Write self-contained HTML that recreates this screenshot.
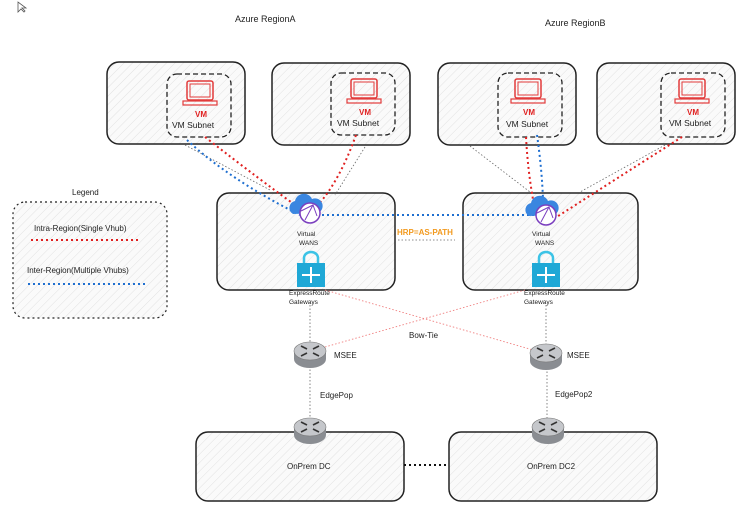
<!DOCTYPE html>
<html><head><meta charset="utf-8"><style>
html,body{margin:0;padding:0;background:#fff;}
svg{display:block;}
text{font-family:"Liberation Sans",sans-serif;fill:#222;}
</style></head><body>
<svg width="750" height="514" viewBox="0 0 750 514" xmlns="http://www.w3.org/2000/svg">
<defs>
<pattern id="h" width="6" height="6" patternUnits="userSpaceOnUse" patternTransform="rotate(45)">
<rect width="6" height="6" fill="#fafafa"/><line x1="0" y1="0" x2="0" y2="6" stroke="#e2e2e2" stroke-width="1"/>
</pattern>
<g id="router">
<ellipse cx="0" cy="4" rx="16" ry="9" fill="#8a8d92"/>
<rect x="-16" y="-4" width="32" height="8" fill="#8a8d92"/>
<ellipse cx="0" cy="-4" rx="16" ry="9" fill="#c5c7cb" stroke="#777" stroke-width="0.6"/>
<g stroke="#333" stroke-width="1.6">
<line x1="-9" y1="-9" x2="-3" y2="-6"/><line x1="9" y1="-9" x2="3" y2="-6"/>
<line x1="-9" y1="1" x2="-3" y2="-2"/><line x1="9" y1="1" x2="3" y2="-2"/>
</g>
</g>
<g id="vm">
<rect x="-13" y="-14" width="26" height="19" rx="2" fill="none" stroke="#e23b3b" stroke-width="1.5"/>
<rect x="-10" y="-11" width="20" height="13" fill="none" stroke="#e23b3b" stroke-width="1"/>
<rect x="-17" y="6" width="34" height="4" fill="none" stroke="#e23b3b" stroke-width="1.2"/>
</g>
<g id="er">
<path d="M-7,-12 v-5 a7,6 0 0 1 14,0 v5" fill="none" stroke="#3cc3e6" stroke-width="2.5"/>
<rect x="-14" y="-12" width="28" height="24" fill="#1fa8d6"/>
<g stroke="#fff" stroke-width="2" fill="#fff">
<line x1="-9" y1="0" x2="9" y2="0"/><line x1="0" y1="-8" x2="0" y2="8"/>
</g>
</g>
<g id="vwan">
<path d="M-14,6 a7,7 0 0 1 2,-13 a9,9 0 0 1 17,-2 a7,7 0 0 1 6,14 z" fill="#3a86e0"/>
<circle cx="3" cy="5" r="10" fill="#fff" stroke="#7b3fbf" stroke-width="1.5"/>
<path d="M-6,3 L6,-3 L10,8 M-2,12 L6,-3" fill="none" stroke="#7b3fbf" stroke-width="1"/>
</g>
</defs>

<!-- cursor -->
<path d="M18,2 L18,12 L21,9 L24,12 L25,11 L22,8 L26,8 Z" fill="#fff" stroke="#555" stroke-width="0.8"/>

<text x="235" y="22" font-size="9">Azure RegionA</text>
<text x="545" y="26" font-size="9">Azure RegionB</text>

<!-- VNet boxes -->
<g fill="url(#h)" stroke="#222" stroke-width="1.5">
<rect x="107" y="62" width="138" height="82" rx="12"/>
<rect x="272" y="63" width="138" height="82" rx="12"/>
<rect x="438" y="63" width="138" height="82" rx="12"/>
<rect x="597" y="63" width="138" height="81" rx="12"/>
<rect x="217" y="193" width="178" height="97" rx="12"/>
<rect x="463" y="193" width="175" height="97" rx="12"/>
<rect x="196" y="432" width="208" height="69" rx="12"/>
<rect x="449" y="432" width="208" height="69" rx="12"/>
</g>
<g fill="none" stroke="#222" stroke-width="1.3" stroke-dasharray="5,3">
<rect x="167" y="74" width="64" height="63" rx="10"/>
<rect x="331" y="73" width="64" height="62" rx="10"/>
<rect x="498" y="73" width="64" height="64" rx="10"/>
<rect x="661" y="73" width="64" height="64" rx="10"/>
</g>
<!-- legend box -->
<rect x="13" y="202" width="154" height="116" rx="12" fill="url(#h)" stroke="#222" stroke-width="1.2" stroke-dasharray="2,3"/>
<text x="72" y="195" font-size="8">Legend</text>
<text x="34" y="231" font-size="8">Intra-Region(Single Vhub)</text>
<line x1="31" y1="240" x2="140" y2="240" stroke="#e02020" stroke-width="2" stroke-dasharray="2,3"/>
<text x="27" y="273" font-size="8">Inter-Region(Multiple Vhubs)</text>
<line x1="28" y1="284" x2="147" y2="284" stroke="#1f6fd0" stroke-width="2" stroke-dasharray="2,3"/>

<!-- gray dotted connectors -->
<g stroke="#666" stroke-width="0.8" stroke-dasharray="1.5,2" fill="none">
<line x1="185" y1="145" x2="270" y2="190"/>
<line x1="365" y1="147" x2="335" y2="195"/>
<line x1="470" y1="146" x2="530" y2="192"/>
<line x1="665" y1="145" x2="580" y2="192"/>
<line x1="398" y1="240" x2="455" y2="240"/>
<line x1="310" y1="305" x2="310" y2="342"/>
<line x1="546" y1="305" x2="546" y2="344"/>
<line x1="310" y1="366" x2="310" y2="418"/>
<line x1="547" y1="368" x2="547" y2="418"/>
</g>
<line x1="404" y1="465" x2="449" y2="465" stroke="#111" stroke-width="2" stroke-dasharray="2,3"/>
<!-- bow tie -->
<g stroke="#f08080" stroke-width="0.9" stroke-dasharray="1.5,2">
<line x1="325" y1="290" x2="533" y2="350"/>
<line x1="325" y1="347" x2="525" y2="290"/>
</g>

<!-- blue lines -->
<g stroke="#1f6fd0" stroke-width="2" stroke-dasharray="2,3" fill="none">
<path d="M187,140 Q230,180 300,215"/>
<line x1="322" y1="215" x2="535" y2="215"/>
<path d="M537,135 Q542,170 543,200"/>
</g>
<!-- red lines -->
<g stroke="#e02020" stroke-width="2" stroke-dasharray="2,3" fill="none">
<path d="M205,137 Q260,180 302,210"/>
<path d="M356,135 Q340,180 318,205"/>
<path d="M526,137 Q528,175 535,210"/>
<path d="M682,137 Q630,170 552,220"/>
</g>

<!-- VMs -->
<use href="#vm" x="200" y="95"/><text x="195" y="117" font-size="8" font-weight="bold" style="fill:#e02020">VM</text>
<text x="172" y="128" font-size="8.5">VM Subnet</text>
<use href="#vm" x="364" y="93"/><text x="359" y="115" font-size="8" font-weight="bold" style="fill:#e02020">VM</text>
<text x="337" y="126" font-size="8.5">VM Subnet</text>
<use href="#vm" x="528" y="93"/><text x="523" y="115" font-size="8" font-weight="bold" style="fill:#e02020">VM</text>
<text x="506" y="127" font-size="8.5">VM Subnet</text>
<use href="#vm" x="692" y="93"/><text x="687" y="115" font-size="8" font-weight="bold" style="fill:#e02020">VM</text>
<text x="669" y="126" font-size="8.5">VM Subnet</text>

<!-- hubs -->
<use href="#vwan" x="307" y="208"/>
<text x="297" y="236" font-size="6.5">Virtual</text><text x="299" y="245" font-size="6.5">WANS</text>
<use href="#vwan" x="543" y="210"/>
<text x="532" y="236" font-size="6.5">Virtual</text><text x="535" y="245" font-size="6.5">WANS</text>
<text x="397" y="235" font-size="8" font-weight="bold" style="fill:#f29a1f">HRP=AS-PATH</text>
<use href="#er" x="311" y="275"/>
<text x="289" y="295" font-size="6.5">ExpressRoute</text><text x="289" y="304" font-size="6.5">Gateways</text>
<use href="#er" x="546" y="275"/>
<text x="524" y="295" font-size="6.5">ExpressRoute</text><text x="524" y="304" font-size="6.5">Gateways</text>

<!-- routers -->
<use href="#router" x="310" y="355"/>
<use href="#router" x="546" y="357"/>
<use href="#router" x="310" y="431"/>
<use href="#router" x="548" y="431"/>
<text x="334" y="358" font-size="8">MSEE</text>
<text x="567" y="358" font-size="8">MSEE</text>
<text x="409" y="338" font-size="8">Bow-Tie</text>
<text x="320" y="398" font-size="8">EdgePop</text>
<text x="555" y="397" font-size="8">EdgePop2</text>
<text x="287" y="469" font-size="8">OnPrem DC</text>
<text x="527" y="469" font-size="8">OnPrem DC2</text>
</svg>
</body></html>
